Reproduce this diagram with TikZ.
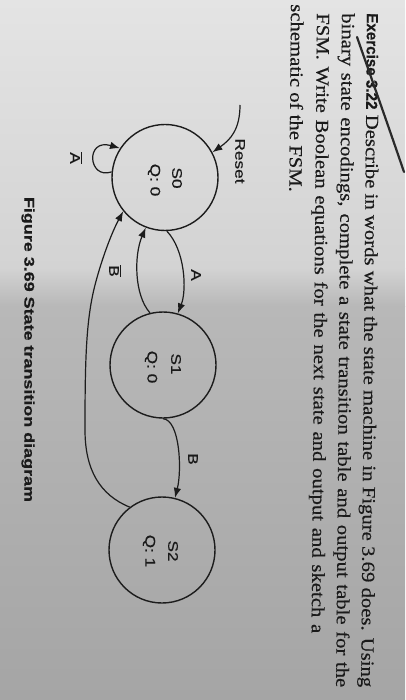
\documentclass[tikz,border=0pt]{standalone}
\usepackage{fontspec}
\setmainfont{Liberation Serif}
\setsansfont{Liberation Sans}
\newfontfamily\bodyfont{Liberation Serif}[FakeBold=0.4]
\newfontfamily\labfont{Liberation Sans}[FakeBold=0.5]
\usetikzlibrary{arrows.meta}
\definecolor{ink}{HTML}{1A1A1A}
\definecolor{wire}{HTML}{1C1C1C}
\definecolor{penc}{HTML}{2A2A2A}
\definecolor{bgA}{HTML}{E4E4E4}
\definecolor{bgB}{HTML}{D3D3D3}
\definecolor{bgC}{HTML}{B8B8B8}
\definecolor{bgD}{HTML}{A5A5A5}
\newcommand\lbl[1]{\scalebox{1.23}[1]{#1}}
\newcommand\bodyline[2]{\scalebox{1.12}[1]{\makebox[#1][s]{#2}}}
\tikzset{
  bodytxt/.style={anchor=base west, rotate=-90.5, inner sep=0, text=ink,
    font=\bodyfont\fontsize{18.5}{22}\selectfont},
  statebox/.style={circle, draw=wire, line width=1.4pt, minimum size=106pt, inner sep=0},
  lab/.style={rotate=-90, inner sep=0, text=ink, font=\labfont\fontsize{14}{16}\selectfont},
  arr/.style={draw=wire, line width=1.2pt, -{Latex[length=10pt,width=7.5pt]}},
  pen/.style={draw=penc, line width=2.2pt, line cap=round}
}
\begin{document}
\begin{tikzpicture}[x=1pt,y=-1pt]
\useasboundingbox (0,0) rectangle (405,700);
% paper background
\shade[top color=bgA, bottom color=bgB] (0,0) rectangle (405,268);
\shade[top color=bgB, bottom color=bgC] (0,268) rectangle (405,306);
\shade[top color=bgC, bottom color=bgD] (0,306) rectangle (405,700);

% exercise text
\node[bodytxt] (l1) at (367,13) {\bodyline{601.8pt}{\resizebox{86pt}{11.5pt}{\labfont\bfseries Exercise 3.22} Describe in words what the state machine in Figure 3.69 does. Using}};
\node[bodytxt] (l2) at (342,13) {\bodyline{601.8pt}{binary state encodings, complete a state transition table and output table for the}};
\node[bodytxt] (l3) at (317,13) {\bodyline{553.6pt}{FSM. Write Boolean equations for the next state and output and sketch a}};
\node[bodytxt] (l4) at (291,4) {\scalebox{1.12}[1]{schematic of the FSM.}};

% pen mark
\draw[pen] (357,37) .. controls (372,80) and (388,125) .. (404,172);

% states
\node[statebox] (s0) at (165,177.5) {};
\node[statebox] (s1) at (163,365) {};
\node[statebox] (s2) at (162,550) {};
\node[lab] (s0a) at (177,178) {\lbl{S0}};
\node[lab] (s0b) at (154,180) {\lbl{Q: 0}};
\node[lab] (s1a) at (176,364) {\lbl{S1}};
\node[lab] (s1b) at (151,367) {\lbl{Q: 0}};
\node[lab] (s2a) at (173,551) {\lbl{S2}};
\node[lab] (s2b) at (149,551) {\lbl{Q: 1}};

% reset
\coordinate (rst) at (240,105);
\node[lab] (rstl) at (240,161) {\lbl{Reset}};
\draw[arr] (rst) .. controls (240,130) and (230,140) .. (s0.28);

% self loop on S0
\draw[arr] (s0.174) .. controls (88,180) and (85,138) .. (s0.147);
\node[lab] (la) at (76,158) {\lbl{$\overline{\hbox{A}}$}};

% S0 -> S1 on A
\draw[arr] (s0.-88) .. controls (185,250) and (187,290) .. (s1.74);
\node[lab] (lA) at (196,275) {\lbl{A}};

% S1 -> S0 on not B
\draw[arr] (s1.104) .. controls (134,295) and (134,255) .. (s0.249);
\node[lab] (lnb) at (115,271) {\lbl{$\overline{\hbox{B}}$}};

% S1 -> S2 on B
\draw[arr] (s1.-90) .. controls (180,420) and (182,470) .. (s2.76);
\node[lab] (lB) at (193,459) {\lbl{B}};

% S2 -> S0
\draw[arr] (s2.127) .. controls (100,495) and (85,470) .. (85,430)
  .. controls (85,360) and (86,320) .. (95,285)
  .. controls (102,258) and (112,232) .. (s0.219);

% caption
\node[lab] (cap) at (28,349.5) {\resizebox{305pt}{10.2pt}{\bfseries Figure 3.69 State transition diagram}};
\end{tikzpicture}
\end{document}
